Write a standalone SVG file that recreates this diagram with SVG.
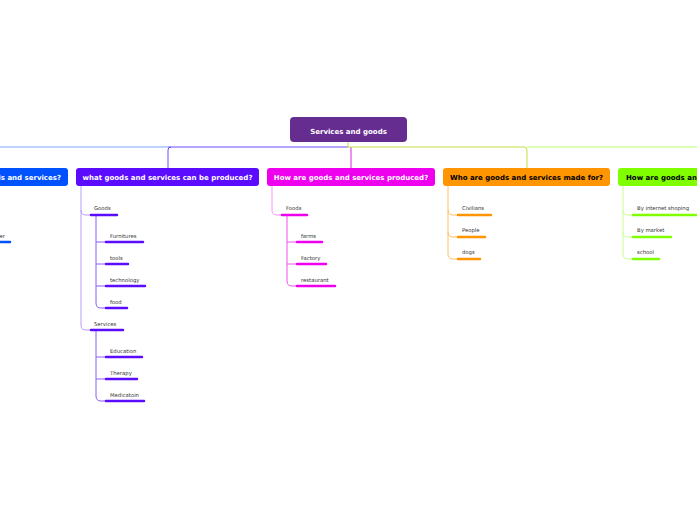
<svg xmlns="http://www.w3.org/2000/svg" width="697" height="520" viewBox="0 0 697 520">
<style>
.t{font-family:"DejaVu Sans",Verdana,sans-serif;font-weight:bold;font-size:7px}
.s{font-family:"DejaVu Sans",Verdana,sans-serif;font-size:5.3px;fill:#333}
.c{fill:none;stroke-width:1}
.u{stroke-width:2.5;stroke-linecap:round}
</style>
<rect width="697" height="520" fill="#fff"/>
<g id="connectors">
<path class="c" stroke="#7aa7ff" d="M0 147H168"/>
<path class="c" stroke="#6a4cff" d="M168 147H348M171 147q-3 0-3 3V168"/>
<path class="c" stroke="#e020e0" d="M351 147V168"/>
<path class="c" stroke="#c0e040" d="M348 142V147H524q3 0 3 3V168"/>
<path class="c" stroke="#b8ff70" d="M527 147H697"/>
<path class="c" stroke="#b89cff" d="M81 186V210q0 5 5 5h4M81 210V325q0 5 5 5h4"/>
<path class="c" stroke="#8a5cff" d="M96 215V242h9M96 242V264h9M96 264V286h9M96 286V303q0 5 5 5h4M96 330V357h9M96 357V379h9M96 379V396q0 5 5 5h4"/>
<path class="c" stroke="#ff90ff" d="M272 186V210q0 5 5 5h4"/>
<path class="c" stroke="#f050f0" d="M287 215V242h9M287 242V264h9M287 264V281q0 5 5 5h4"/>
<path class="c" stroke="#ffc060" d="M448 186V210q0 5 5 5h4M448 210V232q0 5 5 5h4M448 232V254q0 5 5 5h4"/>
<path class="c" stroke="#c8ff90" d="M623 186V210q0 5 5 5h4M623 210V232q0 5 5 5h4M623 232V254q0 5 5 5h4"/>
</g>
<g id="root"><rect x="290" y="117" width="117" height="25" rx="4" fill="#662d91"/><text class="t" x="348.5" y="134" text-anchor="middle" fill="#fff" font-size="10.5">Services and goods</text></g>
<g id="n1"><rect x="-120" y="168" width="188" height="18" rx="3" fill="#0052ff"/><text class="t" x="61" y="180" text-anchor="end" fill="#fff">What are goods and services?</text>
<text class="s" x="5" y="238" text-anchor="end">Consumer</text><line class="u" x1="-20" y1="242" x2="10" y2="242" stroke="#0052ff"/></g>
<g id="n2"><rect x="76" y="168" width="183" height="18" rx="3" fill="#5b0cff"/><text class="t" x="167.5" y="180" text-anchor="middle" fill="#fff">what goods and services can be produced?</text></g>
<g id="n3"><rect x="267" y="168" width="168" height="18" rx="3" fill="#ee00ee"/><text class="t" x="351" y="180" text-anchor="middle" fill="#fff">How are goods and services produced?</text></g>
<g id="n4"><rect x="443" y="168" width="167" height="18" rx="3" fill="#ff9500"/><text class="t" x="526.5" y="180" text-anchor="middle" fill="#000">Who are goods and services made for?</text></g>
<g id="n5"><rect x="618" y="168" width="120" height="18" rx="3" fill="#80ff00"/><text class="t" x="626" y="180" fill="#000">How are goods and services delivered?</text></g>
<g id="purple-items" stroke="#5b0cff">
<text class="s" x="94" y="210" stroke="none">Goods</text><line class="u" x1="91" y1="215" x2="117" y2="215"/>
<text class="s" x="110" y="238" stroke="none">Furnitures</text><line class="u" x1="106" y1="242" x2="143" y2="242"/>
<text class="s" x="110" y="260" stroke="none">tools</text><line class="u" x1="106" y1="264" x2="128" y2="264"/>
<text class="s" x="110" y="282" stroke="none">technology</text><line class="u" x1="106" y1="286" x2="145" y2="286"/>
<text class="s" x="110" y="304" stroke="none">food</text><line class="u" x1="106" y1="308" x2="127" y2="308"/>
<text class="s" x="94" y="326" stroke="none">Services</text><line class="u" x1="91" y1="330" x2="123" y2="330"/>
<text class="s" x="110" y="353" stroke="none">Education</text><line class="u" x1="106" y1="357" x2="142" y2="357"/>
<text class="s" x="110" y="375" stroke="none">Therapy</text><line class="u" x1="106" y1="379" x2="137" y2="379"/>
<text class="s" x="110" y="397" stroke="none">Medicatoin</text><line class="u" x1="106" y1="401" x2="144" y2="401"/>
</g>
<g id="magenta-items" stroke="#ee00ee">
<text class="s" x="286" y="210" stroke="none">Foods</text><line class="u" x1="282" y1="215" x2="307" y2="215"/>
<text class="s" x="301" y="238" stroke="none">farms</text><line class="u" x1="297" y1="242" x2="322" y2="242"/>
<text class="s" x="301" y="260" stroke="none">Factory</text><line class="u" x1="297" y1="264" x2="326" y2="264"/>
<text class="s" x="301" y="282" stroke="none">restaurant</text><line class="u" x1="297" y1="286" x2="335" y2="286"/>
</g>
<g id="orange-items" stroke="#ff9500">
<text class="s" x="462" y="210" stroke="none">Civilians</text><line class="u" x1="458" y1="215" x2="491" y2="215"/>
<text class="s" x="462" y="232" stroke="none">People</text><line class="u" x1="458" y1="237" x2="485" y2="237"/>
<text class="s" x="462" y="254" stroke="none">dogs</text><line class="u" x1="458" y1="259" x2="480" y2="259"/>
</g>
<g id="green-items" stroke="#80ff00">
<text class="s" x="637" y="210" stroke="none">By internet shoping</text><line class="u" x1="633" y1="215" x2="697" y2="215"/>
<text class="s" x="637" y="232" stroke="none">By market</text><line class="u" x1="633" y1="237" x2="671" y2="237"/>
<text class="s" x="637" y="254" stroke="none">school</text><line class="u" x1="633" y1="259" x2="659" y2="259"/>
</g>
</svg>
